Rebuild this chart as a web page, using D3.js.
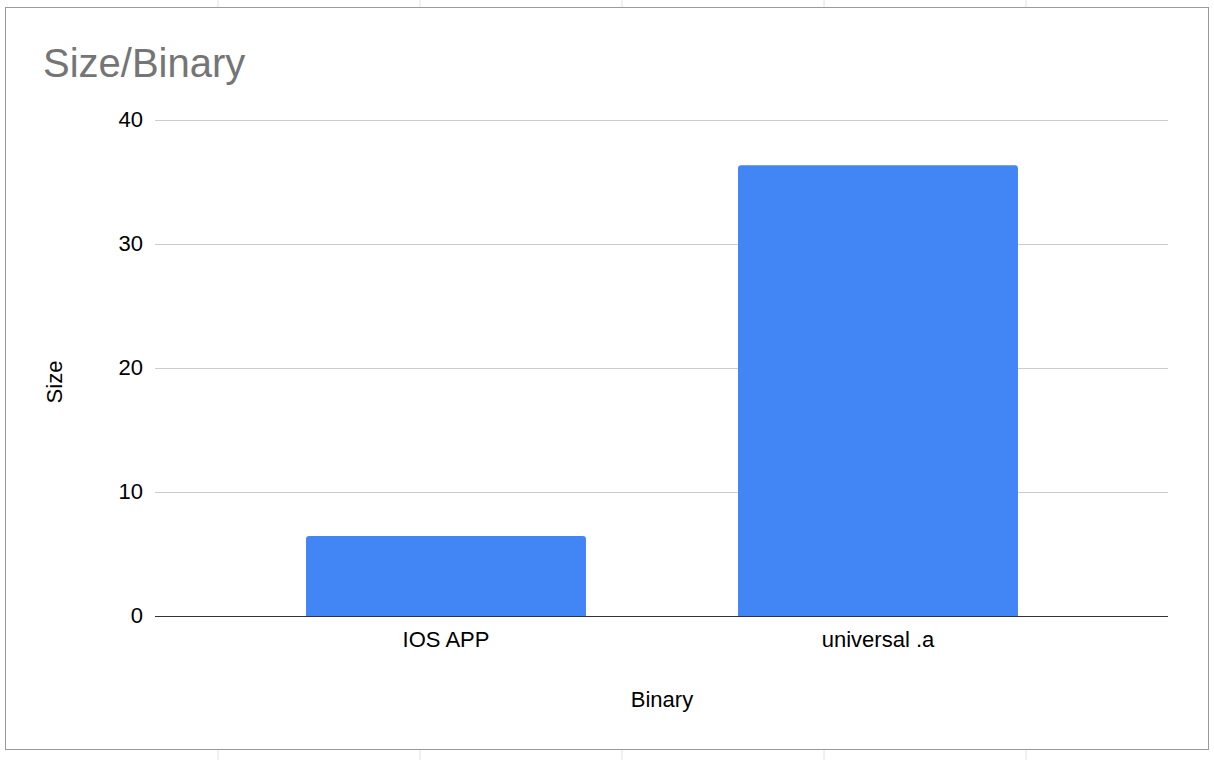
<!DOCTYPE html><html><head><meta charset="utf-8"><script src="https://cdn.jsdelivr.net/npm/d3@7"></script>
<style>body{margin:0;background:#fff}text{font-family:Arial,"Liberation Sans",sans-serif}</style></head><body><svg id="c" width="1214" height="760"></svg><script>
const categories=["IOS APP","universal .a"];
const values=[6.45,36.35];
const yTicks=[0,10,20,30,40];
const svg=d3.select("#c");
[218,420,622,824,1026].forEach(x=>svg.append("line").attr("x1",x).attr("x2",x).attr("y1",0).attr("y2",760).attr("stroke","#e2e2e2"));
svg.append("rect").attr("x",5.5).attr("y",7.5).attr("width",1203).attr("height",742).attr("fill","#fff").attr("stroke","#9a9a9a");
const xs=d3.scaleBand().domain(categories).range([230,1094]).paddingInner(0.352).paddingOuter(0.176);
const y=d3.scaleLinear().domain([0,40]).range([616,120]);
const L=155,R=1168;
svg.append("g").selectAll("line").data(yTicks.slice(1)).join("line").attr("x1",L).attr("x2",R).attr("y1",d=>y(d)+0.5).attr("y2",d=>y(d)+0.5).attr("stroke","#cccccc");
svg.append("g").selectAll("text").data(yTicks).join("text").attr("x",143).attr("y",d=>y(d)+7).attr("text-anchor","end").attr("font-size",22).attr("fill","#000").text(d=>d);
svg.append("g").selectAll("path").data(categories).join("path").attr("fill","#4285f4").attr("d",(d,i)=>{const x0=xs(d),w=xs.bandwidth(),t=y(values[i]),b=y(0),r=3;return `M${x0},${b}V${t+r}Q${x0},${t} ${x0+r},${t}H${x0+w-r}Q${x0+w},${t} ${x0+w},${t+r}V${b}Z`;});
svg.append("line").attr("x1",L).attr("x2",R).attr("y1",616.5).attr("y2",616.5).attr("stroke","#333");
svg.append("g").selectAll("text").data(categories).join("text").attr("x",d=>xs(d)+xs.bandwidth()/2).attr("y",647).attr("text-anchor","middle").attr("font-size",22).text(d=>d);
svg.append("text").attr("x",662).attr("y",707).attr("text-anchor","middle").attr("font-size",22).text("Binary");
svg.append("text").attr("transform","translate(62,382) rotate(-90)").attr("text-anchor","middle").attr("font-size",22).text("Size");
svg.append("text").attr("x",43).attr("y",77).attr("font-size",40).attr("fill","#757575").text("Size/Binary");
</script></body></html>
